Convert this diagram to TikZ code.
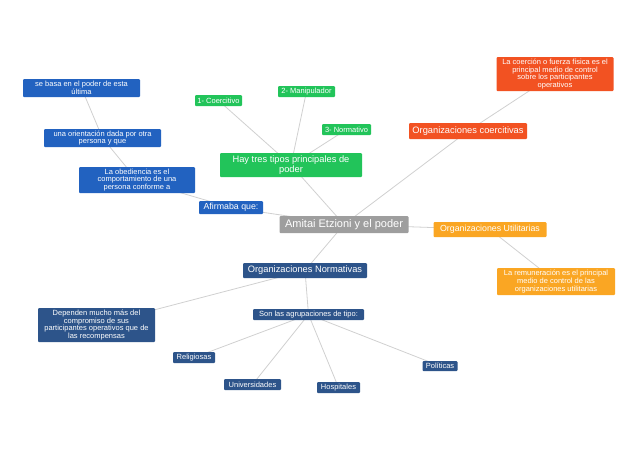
\documentclass[tikz,border=0pt]{standalone}
\usepackage{fontspec}
\setmainfont{Liberation Sans}
\usetikzlibrary{backgrounds}

\definecolor{rootgray}{RGB}{158,158,158}
\definecolor{coercred}{RGB}{242,82,34}
\definecolor{utilorange}{RGB}{250,166,35}
\definecolor{tipogreen}{RGB}{34,196,90}
\definecolor{afirmblue}{RGB}{34,98,192}
\definecolor{normblue}{RGB}{45,84,138}
\definecolor{linkgray}{RGB}{208,208,208}

\begin{document}
\begin{tikzpicture}[x=1pt, y=-1pt,
    box/.style={rounded corners=1pt, text=white, inner sep=1pt, align=center,
      font=\fontsize{7.5}{7.9}\selectfont},
    bigbox/.style={box, font=\fontsize{9.3}{10}\selectfont},
    link/.style={draw=linkgray, line width=0.8pt}]
  \useasboundingbox (0,0) rectangle (638,451);

  % centre
  \node[box, fill=rootgray, minimum width=129, minimum height=17,
    font=\fontsize{11}{11}\selectfont] (root) at (344,224.5) {Amitai Etzioni y el poder};

  % coercitivas
  \node[bigbox, fill=coercred, minimum width=118, minimum height=16] (coerc) at (468,131) {Organizaciones coercitivas};
  \node[box, fill=coercred, minimum width=117, minimum height=34] (coercdef) at (555,74)
    {La coerción o fuerza física es el\\principal medio de control\\sobre los participantes\\operativos};

  % utilitarias
  \node[bigbox, fill=utilorange, minimum width=113, minimum height=15,
    font=\fontsize{8.8}{9}\selectfont] (util) at (490,229.5) {Organizaciones Utilitarias};
  \node[box, fill=utilorange, minimum width=118, minimum height=27] (utildef) at (556,281.5)
    {La remuneración es el principal\\medio de control de las\\organizaciones utilitarias};

  % normativas
  \node[bigbox, fill=normblue, minimum width=124, minimum height=15] (norm) at (305,270.5) {Organizaciones Normativas};
  \node[box, fill=normblue, minimum width=117, minimum height=34] (normdef) at (96.5,325)
    {Dependen mucho más del\\compromiso de sus\\participantes operativos que de\\las recompensas};
  \node[box, fill=normblue, minimum width=111, minimum height=11] (agrup) at (308.5,314.5) {Son las agrupaciones de tipo:};
  \node[box, fill=normblue, minimum width=42, minimum height=11] (relig) at (194,357.5) {Religiosas};
  \node[box, fill=normblue, minimum width=57, minimum height=11] (univ) at (252.5,384.5) {Universidades};
  \node[box, fill=normblue, minimum width=43, minimum height=11] (hosp) at (338.5,387.5) {Hospitales};
  \node[box, fill=normblue, minimum width=35, minimum height=10] (polit) at (440,366) {Políticas};

  % afirmaba
  \node[bigbox, fill=afirmblue, minimum width=64, minimum height=13,
    font=\fontsize{8.8}{9}\selectfont] (afirm) at (231,207.5) {Afirmaba que:};
  \node[box, fill=afirmblue, minimum width=116, minimum height=26] (obed) at (137,180)
    {La obediencia es el\\comportamiento de una\\persona conforme a};
  \node[box, fill=afirmblue, minimum width=117, minimum height=18] (orient) at (102.5,138)
    {una orientación dada por otra\\persona y que};
  \node[box, fill=afirmblue, minimum width=117, minimum height=18] (basa) at (81.5,88)
    {se basa en el poder de esta\\última};

  % tipos de poder
  \node[bigbox, fill=tipogreen, minimum width=142, minimum height=24] (tipos) at (291,165)
    {Hay tres tipos principales de\\poder};
  \node[box, fill=tipogreen, minimum width=47, minimum height=11] (tcoerc) at (218.5,100.5) {1- Coercitivo};
  \node[box, fill=tipogreen, minimum width=57, minimum height=11] (tmanip) at (306.5,91.5) {2- Manipulador};
  \node[box, fill=tipogreen, minimum width=49, minimum height=11] (tnorm) at (346.5,129.5) {3- Normativo};

  \begin{scope}[on background layer]
    \draw[link] (root.center) -- (coerc.center);
    \draw[link] (coerc.center) -- (coercdef.center);
    \draw[link] (root.center) -- (util.center);
    \draw[link] (util.center) -- (utildef.center);
    \draw[link] (root.center) -- (norm.center);
    \draw[link] (norm.center) -- (normdef.center);
    \draw[link] (norm.center) -- (agrup.center);
    \draw[link] (agrup.center) -- (relig.center);
    \draw[link] (agrup.center) -- (univ.center);
    \draw[link] (agrup.center) -- (hosp.center);
    \draw[link] (agrup.center) -- (polit.center);
    \draw[link] (root.center) -- (afirm.center);
    \draw[link] (afirm.center) -- (obed.center);
    \draw[link] (obed.center) -- (orient.center);
    \draw[link] (orient.center) -- (basa.center);
    \draw[link] (root.center) -- (tipos.center);
    \draw[link] (tipos.center) -- (tcoerc.center);
    \draw[link] (tipos.center) -- (tmanip.center);
    \draw[link] (tipos.center) -- (tnorm.center);
  \end{scope}
\end{tikzpicture}
\end{document}
